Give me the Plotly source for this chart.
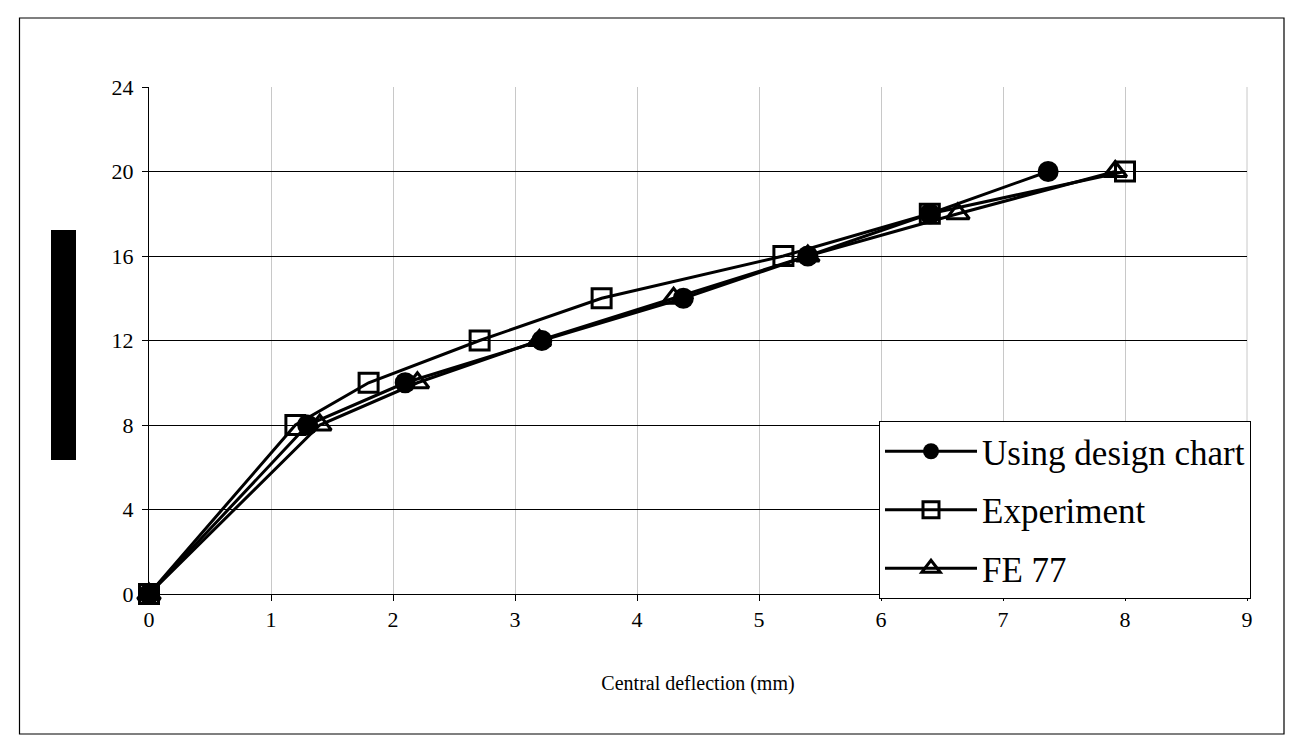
import plotly.graph_objects as go

# Data
design_x = [0, 1.30, 2.10, 3.22, 4.38, 5.40, 6.40, 7.37]
design_y = [0, 8, 10, 12, 14, 16, 18, 20]

exp_x = [0, 1.20, 1.80, 2.71, 3.71, 5.20, 6.40, 8.00]
exp_y = [0, 8, 10, 12, 14, 16, 18, 20]

fe_x = [0, 1.40, 2.20, 3.20, 4.30, 5.40, 6.63, 7.92]
fe_y = [0, 8, 10, 12, 14, 16, 18, 20]

x_ticks = [0, 1, 2, 3, 4, 5, 6, 7, 8, 9]
y_ticks = [0, 4, 8, 12, 16, 20, 24]

FONT = "Liberation Serif, Times New Roman, serif"

fig = go.Figure()

fig.add_trace(go.Scatter(
    x=exp_x, y=exp_y, name="Experiment", mode="lines+markers",
    line=dict(color="black", width=3),
    marker=dict(symbol="square-open", size=19, color="black", line=dict(width=3)),
    legendrank=2, legendgroup="b", cliponaxis=False,
))
fig.add_trace(go.Scatter(
    x=fe_x, y=fe_y, name="FE 77", mode="lines+markers",
    line=dict(color="black", width=3),
    marker=dict(symbol="triangle-up-open", size=20, color="black", line=dict(width=3)),
    legendrank=3, legendgroup="c", cliponaxis=False,
))
fig.add_trace(go.Scatter(
    x=design_x, y=design_y, name="Using design chart", mode="lines+markers",
    line=dict(color="black", width=3),
    marker=dict(symbol="circle", size=21, color="black"),
    legendrank=1, legendgroup="a", cliponaxis=False,
))

W, H = 1292, 742
L, T = 141, 79
PW, PH = 1098, 507

fig.update_layout(
    width=W, height=H,
    margin=dict(l=L, r=W - L - PW, t=T, b=H - T - PH),
    paper_bgcolor="white", plot_bgcolor="white",
    font=dict(family=FONT, color="black", size=22),
    showlegend=True,
    legend=dict(
        x=(879 - 149) / PW, y=(594 - 421) / PH, xanchor="left", yanchor="top",
        bgcolor="white", bordercolor="black", borderwidth=1,
        font=dict(family=FONT, size=35, color="black"),
        itemwidth=92, tracegroupgap=10,
    ),
    xaxis=dict(
        range=[0, 9], tickvals=x_ticks, ticktext=[str(v) for v in x_ticks],
        showgrid=True, gridcolor="#c8c8c8", gridwidth=1,
        showline=True, linecolor="black", linewidth=1,
        ticks="outside", ticklen=6, tickcolor="black",
        zeroline=False, tickfont=dict(family=FONT, size=22),
        title=dict(text="Central deflection (mm)", font=dict(family=FONT, size=20), standoff=44),
    ),
    yaxis=dict(
        range=[0, 24], tickvals=y_ticks, ticktext=[str(v) for v in y_ticks],
        showgrid=True, gridcolor="black", gridwidth=1,
        showline=True, linecolor="black", linewidth=1,
        ticks="outside", ticklen=6, tickcolor="black", ticklabelstandoff=4,
        zeroline=False, tickfont=dict(family=FONT, size=22),
    ),
    shapes=[
        # outer chart border
        dict(type="rect", xref="paper", yref="paper",
             x0=(19.5 - 149) / PW, x1=(1284 - 149) / PW,
             y0=(594 - 734) / PH, y1=(594 - 18) / PH,
             line=dict(color="black", width=1.2), fillcolor="rgba(0,0,0,0)", layer="below"),
        # solid block where the y-axis title sits
        dict(type="rect", xref="paper", yref="paper",
             x0=(51 - 149) / PW, x1=(76 - 149) / PW,
             y0=(594 - 460) / PH, y1=(594 - 230) / PH,
             line=dict(color="black", width=0), fillcolor="black"),
        # right edge of plot area
        dict(type="line", xref="paper", yref="paper", x0=1, x1=1, y0=0, y1=1,
             line=dict(color="#c8c8c8", width=1), layer="below"),
    ],
)

fig.write_html("out.html")
